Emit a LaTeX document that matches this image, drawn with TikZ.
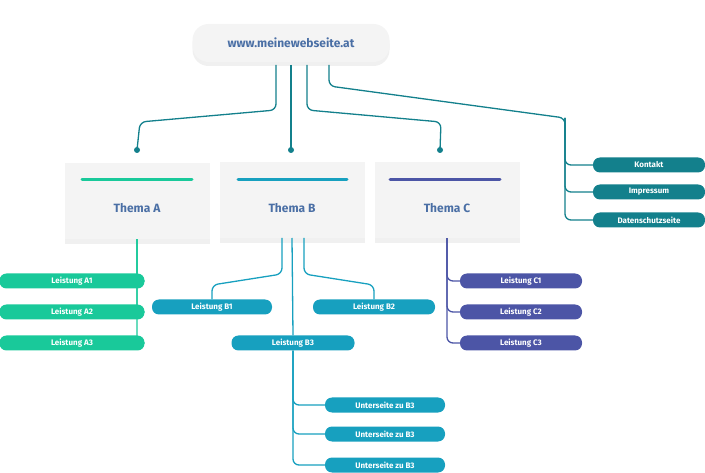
\documentclass[tikz,border=0pt]{standalone}
\usepackage{fontspec}
\setmainfont{Fira Sans}
\usetikzlibrary{shadows,positioning}
\definecolor{tealline}{HTML}{13808C}
\definecolor{greenA}{HTML}{19C99A}
\definecolor{blueB}{HTML}{17A0BF}
\definecolor{purpleC}{HTML}{4C55A6}
\definecolor{textblue}{HTML}{4A6FA5}
\definecolor{boxgray}{HTML}{F4F4F4}
\begin{document}
\begin{tikzpicture}
        [x=1pt,y=-1pt,
        root/.style={rounded corners=16pt,fill=boxgray,minimum width=197pt,minimum height=38pt,
            font=\bfseries\large,text=textblue,drop shadow={opacity=.12,shadow xshift=0pt,shadow yshift=-4pt}},
        thema/.style={fill=boxgray,minimum width=145pt,minimum height=76pt,
            drop shadow={opacity=.12,shadow xshift=0pt,shadow yshift=-5pt}},
        titel/.style={font=\bfseries\large,text=textblue},
        pill/.style={rounded corners=7pt,fill=#1,text=white,font=\bfseries\footnotesize,minimum height=15pt,inner sep=1pt},
        link/.style={draw=#1,line width=1.3pt,rounded corners=6pt},
        dot/.style={circle,fill=tealline,inner sep=0pt,minimum size=6pt}]
        \useasboundingbox (0,0) rectangle (705,473);
        % root
        \node[root] (Root) at (291,43) {www.meinewebseite.at};
        
        % Themen
        \node[thema] (TA) at (137,201) {};
        \node[thema] (TB) at (292,200) {};
        \node[thema] (TC) at (447,200) {};
        \node[titel] (TAtxt) at (137,208) {Thema A};
        \node[titel] (TBtxt) at (292,208) {Thema B};
        \node[titel] (TCtxt) at (447,208) {Thema C};
        \draw[greenA,line width=3pt,line cap=round] (82,180) -- (192,180);
        \draw[blueB,line width=3pt,line cap=round] (238,180) -- (347,180);
        \draw[purpleC,line width=3pt,line cap=round] (390,180) -- (500,180);
        
        % dots
        \node[dot] (DA) at (137,150) {};
        \node[dot] (DB) at (291,150) {};
        \node[dot] (DC) at (440,150) {};
        \coordinate (R1) at (276,65);
        \coordinate (R2) at (291,65);
        \coordinate (R3) at (307,65);
        \coordinate (R4) at (329,65);
        \coordinate (S) at (565,118);
        
        \draw[link=tealline] (R1) -- (276,110) -- (140,122) -- (DA.center);
        \draw[link=tealline] (R2) -- (DB.center);
        \draw[link=tealline] (R3) -- (307,110) -- (441,122) -- (DC.center);
        \draw[link=tealline] (R4) -- (329,86) -- (S) -- (565,140);
        
        % Meta-Seiten
        \node[pill=tealline,minimum width=112pt] (Kontakt) at (649,165) {Kontakt};
        \node[pill=tealline,minimum width=112pt] (Impressum) at (649,192) {Impressum};
        \node[pill=tealline,minimum width=112pt] (Datenschutz) at (649,220) {Datenschutzseite};
        \foreach \n in {Kontakt,Impressum,Datenschutz}
            \draw[link=tealline] (S) |- (\n.west);
        
        % Thema A
        \node[pill=greenA,minimum width=145pt] (A1) at (72,281) {Leistung A1};
        \node[pill=greenA,minimum width=145pt] (A2) at (72,312) {Leistung A2};
        \node[pill=greenA,minimum width=145pt] (A3) at (72,343) {Leistung A3};
        \foreach \n in {A1,A2,A3}
            \draw[link=greenA] (TA.south) |- (\n.east);
        
        % Thema B
        \node[pill=blueB,minimum width=120pt] (B1) at (212,307) {Leistung B1};
        \node[pill=blueB,minimum width=122pt] (B2) at (374,307) {Leistung B2};
        \node[pill=blueB,minimum width=123pt] (B3) at (293,343) {Leistung B3};
        \node[pill=blueB,minimum width=120pt] (U1) at (385,405) {Unterseite zu B3};
        \node[pill=blueB,minimum width=120pt] (U2) at (385,434) {Unterseite zu B3};
        \node[pill=blueB,minimum width=120pt] (U3) at (385,465) {Unterseite zu B3};
        \draw[link=blueB] (282,238) -- (282,274) -- (212,285) -- (B1.north);
        \draw[link=blueB] (304,238) -- (304,274) -- (374,285) -- (B2.north);
        \draw[link=blueB] (292,238) -- (B3.north);
        \foreach \n in {U1,U2,U3}
            \draw[link=blueB] (B3.south) |- (\n.west);
        
        % Thema C
        \node[pill=purpleC,minimum width=122pt] (C1) at (521,281) {Leistung C1};
        \node[pill=purpleC,minimum width=122pt] (C2) at (521,312) {Leistung C2};
        \node[pill=purpleC,minimum width=122pt] (C3) at (521,343) {Leistung C3};
        \foreach \n in {C1,C2,C3}
            \draw[link=purpleC] (TC.south) |- (\n.west);
\end{tikzpicture}
\end{document}
